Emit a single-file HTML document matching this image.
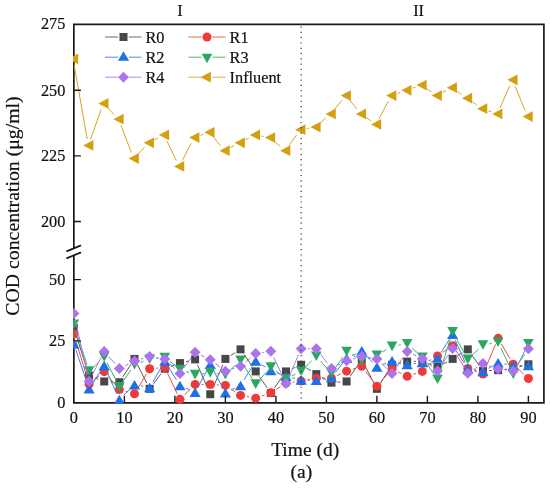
<!DOCTYPE html>
<html><head><meta charset="utf-8"><title>COD concentration chart</title>
<style>html,body{margin:0;padding:0;background:#fff;}body{width:550px;height:489px;overflow:hidden;}svg{display:block;}</style>
</head><body>
<svg width="550" height="489" viewBox="0 0 550 489">
<rect width="550" height="489" fill="#fff"/>
<path d="M73.85,248.3V24.4H543.9V402.9H73.85V255.3" stroke="#1a1a1a" stroke-width="1.7" fill="none" stroke-linejoin="miter"/>
<defs><clipPath id="pc"><rect x="73" y="25.2" width="470" height="378.5"/></clipPath></defs>
<g clip-path="url(#pc)">
<path d="M75.81,334.02L87.14,369.58M94.92,377.86L98.33,379.19M110.49,381.77L113.06,381.90M122.78,376.92L131.07,364.19M137.35,364.53L146.80,383.20M153.44,383.79L161.01,373.75M170.70,366.52L174.05,365.28M186.07,361.59L188.98,360.89M197.61,365.18L207.74,388.44M212.73,388.43L222.92,364.70M230.73,355.55L235.22,352.71M244.12,354.54L252.13,366.22M259.32,376.57L267.23,387.84M274.47,387.84L282.38,376.57M291.77,368.89L295.38,367.32M306.52,368.09L310.93,370.81M321.78,377.22L325.97,379.59M337.73,382.19L340.32,381.98M350.19,376.29L358.16,364.82M364.65,365.24L374.00,383.23M380.26,383.49L388.69,370.12M398.22,363.50L401.03,362.90M413.50,361.40L416.05,361.32M428.22,363.40L431.63,364.72M443.06,364.03L447.09,361.88M457.98,355.55L462.47,352.71M471.42,354.50L479.33,365.77M489.24,370.62L491.81,370.49M504.36,369.48L506.99,369.18M519.32,366.80L522.33,365.97" stroke="#5a5a5a" stroke-width="1.0" fill="none"/>
<rect x="69.90" y="324.01" width="8.0" height="8.0" fill="#474747"/><rect x="85.05" y="371.58" width="8.0" height="8.0" fill="#474747"/><rect x="100.20" y="377.47" width="8.0" height="8.0" fill="#474747"/><rect x="115.35" y="378.20" width="8.0" height="8.0" fill="#474747"/><rect x="130.50" y="354.91" width="8.0" height="8.0" fill="#474747"/><rect x="145.65" y="384.82" width="8.0" height="8.0" fill="#474747"/><rect x="160.80" y="364.72" width="8.0" height="8.0" fill="#474747"/><rect x="175.95" y="359.08" width="8.0" height="8.0" fill="#474747"/><rect x="191.10" y="355.40" width="8.0" height="8.0" fill="#474747"/><rect x="206.25" y="390.22" width="8.0" height="8.0" fill="#474747"/><rect x="221.40" y="354.91" width="8.0" height="8.0" fill="#474747"/><rect x="236.55" y="345.35" width="8.0" height="8.0" fill="#474747"/><rect x="251.70" y="367.41" width="8.0" height="8.0" fill="#474747"/><rect x="266.85" y="388.99" width="8.0" height="8.0" fill="#474747"/><rect x="282.00" y="367.41" width="8.0" height="8.0" fill="#474747"/><rect x="297.15" y="360.79" width="8.0" height="8.0" fill="#474747"/><rect x="312.30" y="370.11" width="8.0" height="8.0" fill="#474747"/><rect x="327.45" y="378.69" width="8.0" height="8.0" fill="#474747"/><rect x="342.60" y="377.47" width="8.0" height="8.0" fill="#474747"/><rect x="357.75" y="355.64" width="8.0" height="8.0" fill="#474747"/><rect x="372.90" y="384.82" width="8.0" height="8.0" fill="#474747"/><rect x="388.05" y="360.79" width="8.0" height="8.0" fill="#474747"/><rect x="403.20" y="357.61" width="8.0" height="8.0" fill="#474747"/><rect x="418.35" y="357.12" width="8.0" height="8.0" fill="#474747"/><rect x="433.50" y="363.00" width="8.0" height="8.0" fill="#474747"/><rect x="448.65" y="354.91" width="8.0" height="8.0" fill="#474747"/><rect x="463.80" y="345.35" width="8.0" height="8.0" fill="#474747"/><rect x="478.95" y="366.92" width="8.0" height="8.0" fill="#474747"/><rect x="494.10" y="366.19" width="8.0" height="8.0" fill="#474747"/><rect x="509.25" y="364.47" width="8.0" height="8.0" fill="#474747"/><rect x="524.40" y="360.30" width="8.0" height="8.0" fill="#474747"/>
<path d="M75.78,340.36L87.17,377.94M94.06,380.03L99.19,375.80M108.40,376.62L115.15,384.60M125.62,391.28L128.23,392.00M137.87,388.17L146.28,374.28M156.13,368.19L158.32,368.02M167.59,373.36L177.16,393.50M184.58,394.80L190.47,388.98M201.60,384.41L203.75,384.41M216.74,384.83L218.91,384.97M230.82,388.98L235.13,391.85M246.95,396.58L249.30,397.00M261.82,395.96L264.73,394.93M276.35,389.28L280.50,386.65M292.43,382.25L294.72,381.91M307.55,379.84L309.90,379.42M322.80,378.28L324.95,378.28M337.33,375.52L340.72,373.93M352.78,369.17L355.57,368.27M365.69,371.43L372.96,380.96M381.20,381.25L387.75,373.84M397.90,371.80L401.35,373.48M413.38,374.32L416.17,373.42M426.90,366.77L432.95,360.61M442.88,352.31L447.27,349.32M456.25,351.08L464.20,363.06M473.89,370.74L476.86,371.84M485.48,368.13L495.57,344.30M501.37,343.93L509.98,358.69M517.99,368.75L523.66,374.08" stroke="#f04848" stroke-width="1.0" fill="none"/>
<circle cx="73.90" cy="334.14" r="4.5" fill="#f03a3a"/><circle cx="89.05" cy="384.16" r="4.5" fill="#f03a3a"/><circle cx="104.20" cy="371.66" r="4.5" fill="#f03a3a"/><circle cx="119.35" cy="389.56" r="4.5" fill="#f03a3a"/><circle cx="134.50" cy="393.73" r="4.5" fill="#f03a3a"/><circle cx="149.65" cy="368.72" r="4.5" fill="#f03a3a"/><circle cx="164.80" cy="367.49" r="4.5" fill="#f03a3a"/><circle cx="179.95" cy="399.37" r="4.5" fill="#f03a3a"/><circle cx="195.10" cy="384.41" r="4.5" fill="#f03a3a"/><circle cx="210.25" cy="384.41" r="4.5" fill="#f03a3a"/><circle cx="225.40" cy="385.39" r="4.5" fill="#f03a3a"/><circle cx="240.55" cy="395.44" r="4.5" fill="#f03a3a"/><circle cx="255.70" cy="398.14" r="4.5" fill="#f03a3a"/><circle cx="270.85" cy="392.75" r="4.5" fill="#f03a3a"/><circle cx="286.00" cy="383.18" r="4.5" fill="#f03a3a"/><circle cx="301.15" cy="380.98" r="4.5" fill="#f03a3a"/><circle cx="316.30" cy="378.28" r="4.5" fill="#f03a3a"/><circle cx="331.45" cy="378.28" r="4.5" fill="#f03a3a"/><circle cx="346.60" cy="371.17" r="4.5" fill="#f03a3a"/><circle cx="361.75" cy="366.27" r="4.5" fill="#f03a3a"/><circle cx="376.90" cy="386.13" r="4.5" fill="#f03a3a"/><circle cx="392.05" cy="368.96" r="4.5" fill="#f03a3a"/><circle cx="407.20" cy="376.32" r="4.5" fill="#f03a3a"/><circle cx="422.35" cy="371.41" r="4.5" fill="#f03a3a"/><circle cx="437.50" cy="355.97" r="4.5" fill="#f03a3a"/><circle cx="452.65" cy="345.67" r="4.5" fill="#f03a3a"/><circle cx="467.80" cy="368.47" r="4.5" fill="#f03a3a"/><circle cx="482.95" cy="374.11" r="4.5" fill="#f03a3a"/><circle cx="498.10" cy="338.31" r="4.5" fill="#f03a3a"/><circle cx="513.25" cy="364.30" r="4.5" fill="#f03a3a"/><circle cx="528.40" cy="378.53" r="4.5" fill="#f03a3a"/>
<path d="M75.98,350.11L86.97,382.67M92.59,383.37L100.66,370.98M106.84,371.47L116.71,393.67M123.98,395.05L129.87,389.22M140.88,385.89L143.27,386.36M152.88,381.96L161.57,366.76M168.24,366.63L176.51,379.88M185.87,388.07L189.18,389.57M198.20,386.54L207.15,370.02M213.31,370.04L222.34,387.01M231.25,389.91L234.70,388.23M243.99,379.88L252.26,366.63M261.24,364.52L265.31,367.03M276.91,372.79L279.94,373.96M292.32,377.85L294.83,378.46M307.65,380.10L309.80,380.14M322.70,379.10L325.05,378.68M335.45,372.42L342.60,363.29M352.45,355.33L355.90,353.66M366.19,355.56L372.46,362.26M382.89,364.48L386.06,363.15M398.34,362.26L400.91,362.92M413.65,363.71L415.90,363.42M428.56,360.68L431.29,359.84M440.99,352.45L449.16,339.63M455.27,340.09L465.18,362.53M474.18,369.71L476.57,370.18M488.61,368.21L492.44,366.04M504.50,363.97L506.85,364.39M519.75,365.53L521.90,365.53" stroke="#3a80ea" stroke-width="1.0" fill="none"/>
<path d="M73.90,339.20L79.50,348.70L68.30,348.70Z" fill="#1f6fe6"/><path d="M89.05,384.07L94.65,393.57L83.45,393.57Z" fill="#1f6fe6"/><path d="M104.20,360.78L109.80,370.28L98.60,370.28Z" fill="#1f6fe6"/><path d="M119.35,394.86L124.95,404.36L113.75,404.36Z" fill="#1f6fe6"/><path d="M134.50,379.91L140.10,389.41L128.90,389.41Z" fill="#1f6fe6"/><path d="M149.65,382.85L155.25,392.35L144.05,392.35Z" fill="#1f6fe6"/><path d="M164.80,356.37L170.40,365.87L159.20,365.87Z" fill="#1f6fe6"/><path d="M179.95,380.64L185.55,390.14L174.35,390.14Z" fill="#1f6fe6"/><path d="M195.10,387.51L200.70,397.01L189.50,397.01Z" fill="#1f6fe6"/><path d="M210.25,359.55L215.85,369.05L204.65,369.05Z" fill="#1f6fe6"/><path d="M225.40,388.00L231.00,397.50L219.80,397.50Z" fill="#1f6fe6"/><path d="M240.55,380.64L246.15,390.14L234.95,390.14Z" fill="#1f6fe6"/><path d="M255.70,356.37L261.30,365.87L250.10,365.87Z" fill="#1f6fe6"/><path d="M270.85,365.68L276.45,375.18L265.25,375.18Z" fill="#1f6fe6"/><path d="M286.00,371.57L291.60,381.07L280.40,381.07Z" fill="#1f6fe6"/><path d="M301.15,375.25L306.75,384.75L295.55,384.75Z" fill="#1f6fe6"/><path d="M316.30,375.49L321.90,384.99L310.70,384.99Z" fill="#1f6fe6"/><path d="M331.45,372.79L337.05,382.29L325.85,382.29Z" fill="#1f6fe6"/><path d="M346.60,353.42L352.20,362.92L341.00,362.92Z" fill="#1f6fe6"/><path d="M361.75,346.07L367.35,355.57L356.15,355.57Z" fill="#1f6fe6"/><path d="M376.90,362.25L382.50,371.75L371.30,371.75Z" fill="#1f6fe6"/><path d="M392.05,355.88L397.65,365.38L386.45,365.38Z" fill="#1f6fe6"/><path d="M407.20,359.80L412.80,369.30L401.60,369.30Z" fill="#1f6fe6"/><path d="M422.35,357.84L427.95,367.34L416.75,367.34Z" fill="#1f6fe6"/><path d="M437.50,353.18L443.10,362.68L431.90,362.68Z" fill="#1f6fe6"/><path d="M452.65,329.39L458.25,338.89L447.05,338.89Z" fill="#1f6fe6"/><path d="M467.80,363.72L473.40,373.22L462.20,373.22Z" fill="#1f6fe6"/><path d="M482.95,366.66L488.55,376.16L477.35,376.16Z" fill="#1f6fe6"/><path d="M498.10,358.08L503.70,367.58L492.50,367.58Z" fill="#1f6fe6"/><path d="M513.25,360.78L518.85,370.28L507.65,370.28Z" fill="#1f6fe6"/><path d="M528.40,360.78L534.00,370.28L522.80,370.28Z" fill="#1f6fe6"/>
<path d="M75.90,330.52L87.05,364.98M93.79,366.72L99.46,361.40M107.14,362.75L116.41,381.06M123.03,381.50L130.82,370.15M140.59,362.53L143.56,361.42M156.11,358.42L158.34,358.17M169.89,361.48L174.86,365.41M186.10,371.54L188.95,372.51M201.55,373.77L203.80,373.48M216.70,373.48L218.95,373.77M230.14,370.15L235.81,364.83M244.04,365.86L252.21,378.68M260.00,379.29L266.55,371.87M275.94,371.04L280.91,374.98M291.77,376.03L295.38,374.16M305.78,366.60L311.67,360.78M320.60,361.09L327.15,368.50M335.16,368.04L342.89,356.89M352.14,354.96L356.21,357.47M367.84,358.60L370.81,357.50M382.52,351.96L386.43,349.68M398.45,345.26L400.80,344.85M412.06,348.03L417.49,352.87M426.03,362.55L433.82,373.90M439.47,373.07L450.68,337.89M455.77,337.40L464.68,353.70M472.50,354.91L478.25,349.42M489.35,343.79L491.70,343.37M500.89,348.11L510.46,368.24M516.15,368.29L525.50,349.52" stroke="#3cb272" stroke-width="1.0" fill="none"/>
<path d="M68.60,319.54L79.20,319.54L73.90,329.14Z" fill="#28a85e"/><path d="M83.75,366.37L94.35,366.37L89.05,375.97Z" fill="#28a85e"/><path d="M98.90,352.15L109.50,352.15L104.20,361.75Z" fill="#28a85e"/><path d="M114.05,382.06L124.65,382.06L119.35,391.66Z" fill="#28a85e"/><path d="M129.20,359.99L139.80,359.99L134.50,369.59Z" fill="#28a85e"/><path d="M144.35,354.35L154.95,354.35L149.65,363.95Z" fill="#28a85e"/><path d="M159.50,352.64L170.10,352.64L164.80,362.24Z" fill="#28a85e"/><path d="M174.65,364.65L185.25,364.65L179.95,374.25Z" fill="#28a85e"/><path d="M189.80,369.80L200.40,369.80L195.10,379.40Z" fill="#28a85e"/><path d="M204.95,367.84L215.55,367.84L210.25,377.44Z" fill="#28a85e"/><path d="M220.10,369.80L230.70,369.80L225.40,379.40Z" fill="#28a85e"/><path d="M235.25,355.58L245.85,355.58L240.55,365.18Z" fill="#28a85e"/><path d="M250.40,379.36L261.00,379.36L255.70,388.96Z" fill="#28a85e"/><path d="M265.55,362.20L276.15,362.20L270.85,371.80Z" fill="#28a85e"/><path d="M280.70,374.22L291.30,374.22L286.00,383.82Z" fill="#28a85e"/><path d="M295.85,366.37L306.45,366.37L301.15,375.97Z" fill="#28a85e"/><path d="M311.00,351.41L321.60,351.41L316.30,361.01Z" fill="#28a85e"/><path d="M326.15,368.58L336.75,368.58L331.45,378.18Z" fill="#28a85e"/><path d="M341.30,346.75L351.90,346.75L346.60,356.35Z" fill="#28a85e"/><path d="M356.45,356.07L367.05,356.07L361.75,365.67Z" fill="#28a85e"/><path d="M371.60,350.43L382.20,350.43L376.90,360.03Z" fill="#28a85e"/><path d="M386.75,341.60L397.35,341.60L392.05,351.20Z" fill="#28a85e"/><path d="M401.90,338.91L412.50,338.91L407.20,348.51Z" fill="#28a85e"/><path d="M417.05,352.39L427.65,352.39L422.35,361.99Z" fill="#28a85e"/><path d="M432.20,374.46L442.80,374.46L437.50,384.06Z" fill="#28a85e"/><path d="M447.35,326.89L457.95,326.89L452.65,336.49Z" fill="#28a85e"/><path d="M462.50,354.60L473.10,354.60L467.80,364.20Z" fill="#28a85e"/><path d="M477.65,340.13L488.25,340.13L482.95,349.73Z" fill="#28a85e"/><path d="M492.80,337.44L503.40,337.44L498.10,347.04Z" fill="#28a85e"/><path d="M507.95,369.31L518.55,369.31L513.25,378.91Z" fill="#28a85e"/><path d="M523.10,338.91L533.70,338.91L528.40,348.51Z" fill="#28a85e"/>
<path d="M75.34,319.99L87.61,374.78M92.05,375.34L101.20,357.43M108.60,356.47L114.95,363.56M125.29,365.59L128.56,364.00M140.81,359.18L143.34,358.40M156.17,357.51L158.28,357.85M169.57,363.47L175.18,368.82M183.80,368.02L191.25,357.65M201.04,355.17L204.31,356.76M215.50,363.64L220.15,367.17M231.68,369.14L234.27,368.30M245.60,362.02L250.65,357.76M262.23,352.56L264.32,352.26M273.67,357.28L283.18,377.46M288.65,377.38L298.50,354.90M307.75,348.86L309.70,348.86M320.33,354.08L327.42,363.25M337.35,365.51L340.70,363.83M352.91,358.93L355.44,358.15M368.25,357.37L370.40,357.75M381.67,363.47L387.28,368.82M395.81,367.95L403.44,356.97M413.17,354.36L416.38,355.86M427.48,362.82L432.37,366.77M441.21,365.46L448.94,354.07M456.12,354.23L464.33,367.52M473.38,369.61L477.37,367.09M489.17,365.78L491.88,366.75M504.65,369.81L506.70,370.08M516.99,365.48L524.66,354.30" stroke="#ac78ec" stroke-width="1.0" fill="none"/>
<path d="M73.90,308.05L79.35,313.55L73.90,319.05L68.45,313.55Z" fill="#ac74ec"/><path d="M89.05,375.72L94.50,381.22L89.05,386.72L83.60,381.22Z" fill="#ac74ec"/><path d="M104.20,346.05L109.65,351.55L104.20,357.05L98.75,351.55Z" fill="#ac74ec"/><path d="M119.35,362.97L124.80,368.47L119.35,373.97L113.90,368.47Z" fill="#ac74ec"/><path d="M134.50,355.62L139.95,361.12L134.50,366.62L129.05,361.12Z" fill="#ac74ec"/><path d="M149.65,350.96L155.10,356.46L149.65,361.96L144.20,356.46Z" fill="#ac74ec"/><path d="M164.80,353.41L170.25,358.91L164.80,364.41L159.35,358.91Z" fill="#ac74ec"/><path d="M179.95,367.88L185.40,373.38L179.95,378.88L174.50,373.38Z" fill="#ac74ec"/><path d="M195.10,346.79L200.55,352.29L195.10,357.79L189.65,352.29Z" fill="#ac74ec"/><path d="M210.25,354.14L215.70,359.64L210.25,365.14L204.80,359.64Z" fill="#ac74ec"/><path d="M225.40,365.67L230.85,371.17L225.40,376.67L219.95,371.17Z" fill="#ac74ec"/><path d="M240.55,360.77L246.00,366.27L240.55,371.77L235.10,366.27Z" fill="#ac74ec"/><path d="M255.70,348.01L261.15,353.51L255.70,359.01L250.25,353.51Z" fill="#ac74ec"/><path d="M270.85,345.81L276.30,351.31L270.85,356.81L265.40,351.31Z" fill="#ac74ec"/><path d="M286.00,377.93L291.45,383.43L286.00,388.93L280.55,383.43Z" fill="#ac74ec"/><path d="M301.15,343.36L306.60,348.86L301.15,354.36L295.70,348.86Z" fill="#ac74ec"/><path d="M316.30,343.36L321.75,348.86L316.30,354.36L310.85,348.86Z" fill="#ac74ec"/><path d="M331.45,362.97L336.90,368.47L331.45,373.97L326.00,368.47Z" fill="#ac74ec"/><path d="M346.60,355.37L352.05,360.87L346.60,366.37L341.15,360.87Z" fill="#ac74ec"/><path d="M361.75,350.71L367.20,356.21L361.75,361.71L356.30,356.21Z" fill="#ac74ec"/><path d="M376.90,353.41L382.35,358.91L376.90,364.41L371.45,358.91Z" fill="#ac74ec"/><path d="M392.05,367.88L397.50,373.38L392.05,378.88L386.60,373.38Z" fill="#ac74ec"/><path d="M407.20,346.05L412.65,351.55L407.20,357.05L401.75,351.55Z" fill="#ac74ec"/><path d="M422.35,353.16L427.80,358.66L422.35,364.16L416.90,358.66Z" fill="#ac74ec"/><path d="M437.50,365.42L442.95,370.92L437.50,376.42L432.05,370.92Z" fill="#ac74ec"/><path d="M452.65,343.11L458.10,348.61L452.65,354.11L447.20,348.61Z" fill="#ac74ec"/><path d="M467.80,367.63L473.25,373.13L467.80,378.63L462.35,373.13Z" fill="#ac74ec"/><path d="M482.95,358.07L488.40,363.57L482.95,369.07L477.50,363.57Z" fill="#ac74ec"/><path d="M498.10,363.46L503.55,368.96L498.10,374.46L492.65,368.96Z" fill="#ac74ec"/><path d="M513.25,365.42L518.70,370.92L513.25,376.42L507.80,370.92Z" fill="#ac74ec"/><path d="M528.40,343.36L533.85,348.86L528.40,354.36L522.95,348.86Z" fill="#ac74ec"/>
<path d="M74.22,65.21L87.13,139.00M90.46,139.29L101.19,109.53M107.91,108.10L114.04,114.48M120.88,125.23L131.37,152.46M138.21,153.84L144.34,147.46M154.62,139.78L158.23,137.90M166.82,140.77L176.33,160.54M182.17,160.64L191.28,143.29M200.44,135.40L203.31,134.41M213.59,137.30L220.46,145.64M230.37,147.66L233.98,145.78M245.52,139.78L249.13,137.90M261.30,136.02L263.65,136.42M274.96,141.79L280.29,146.40M289.00,145.38L296.55,134.93M306.75,128.55L309.10,128.15M320.41,122.78L325.74,118.17M334.79,108.90L341.66,100.56M349.94,100.56L356.81,108.90M366.29,117.62L370.76,120.71M379.12,118.66L388.23,101.30M397.39,93.42L400.26,92.43M412.54,88.17L415.41,87.18M426.89,88.75L431.36,91.85M442.47,92.55L446.08,90.67M457.19,91.38L461.66,94.47M472.34,101.87L476.81,104.97M488.29,110.80L491.16,111.79M499.94,107.98L509.81,85.74M514.93,85.81L525.12,110.53" stroke="#d6a620" stroke-width="1.0" fill="none"/>
<path d="M68.00,58.81L78.20,53.41L78.20,64.21Z" fill="#d4a00f"/><path d="M83.15,145.40L93.35,140.00L93.35,150.80Z" fill="#d4a00f"/><path d="M98.30,103.42L108.50,98.02L108.50,108.82Z" fill="#d4a00f"/><path d="M113.45,119.16L123.65,113.76L123.65,124.56Z" fill="#d4a00f"/><path d="M128.60,158.52L138.80,153.12L138.80,163.92Z" fill="#d4a00f"/><path d="M143.75,142.78L153.95,137.38L153.95,148.18Z" fill="#d4a00f"/><path d="M158.90,134.91L169.10,129.51L169.10,140.31Z" fill="#d4a00f"/><path d="M174.05,166.40L184.25,161.00L184.25,171.80Z" fill="#d4a00f"/><path d="M189.20,137.53L199.40,132.13L199.40,142.93Z" fill="#d4a00f"/><path d="M204.35,132.28L214.55,126.88L214.55,137.68Z" fill="#d4a00f"/><path d="M219.50,150.65L229.70,145.25L229.70,156.05Z" fill="#d4a00f"/><path d="M234.65,142.78L244.85,137.38L244.85,148.18Z" fill="#d4a00f"/><path d="M249.80,134.91L260.00,129.51L260.00,140.31Z" fill="#d4a00f"/><path d="M264.95,137.53L275.15,132.13L275.15,142.93Z" fill="#d4a00f"/><path d="M280.10,150.65L290.30,145.25L290.30,156.05Z" fill="#d4a00f"/><path d="M295.25,129.66L305.45,124.26L305.45,135.06Z" fill="#d4a00f"/><path d="M310.40,127.04L320.60,121.64L320.60,132.44Z" fill="#d4a00f"/><path d="M325.55,113.92L335.75,108.52L335.75,119.32Z" fill="#d4a00f"/><path d="M340.70,95.55L350.90,90.15L350.90,100.95Z" fill="#d4a00f"/><path d="M355.85,113.92L366.05,108.52L366.05,119.32Z" fill="#d4a00f"/><path d="M371.00,124.41L381.20,119.01L381.20,129.81Z" fill="#d4a00f"/><path d="M386.15,95.55L396.35,90.15L396.35,100.95Z" fill="#d4a00f"/><path d="M401.30,90.30L411.50,84.90L411.50,95.70Z" fill="#d4a00f"/><path d="M416.45,85.05L426.65,79.65L426.65,90.45Z" fill="#d4a00f"/><path d="M431.60,95.55L441.80,90.15L441.80,100.95Z" fill="#d4a00f"/><path d="M446.75,87.68L456.95,82.28L456.95,93.08Z" fill="#d4a00f"/><path d="M461.90,98.17L472.10,92.77L472.10,103.57Z" fill="#d4a00f"/><path d="M477.05,108.67L487.25,103.27L487.25,114.07Z" fill="#d4a00f"/><path d="M492.20,113.92L502.40,108.52L502.40,119.32Z" fill="#d4a00f"/><path d="M507.35,79.80L517.55,74.40L517.55,85.20Z" fill="#d4a00f"/><path d="M522.50,116.54L532.70,111.14L532.70,121.94Z" fill="#d4a00f"/>
</g>
<line x1="301.15" y1="26.5" x2="301.15" y2="402" stroke="#333" stroke-width="1.2" stroke-dasharray="1.2,4.1"/>
<path d="M67.1,251.1L80.4,245.6M67.1,258.1L80.4,252.6" stroke="#1a1a1a" stroke-width="1.7" fill="none" stroke-linecap="round"/>
<path d="M73.85,90.30H80.9M73.85,155.90H80.9M73.85,221.50H80.9M73.85,279.60H80.9M73.85,340.90H80.9M124.40,402.9V395.8M174.90,402.9V395.8M225.40,402.9V395.8M275.90,402.9V395.8M326.40,402.9V395.8M376.90,402.9V395.8M427.40,402.9V395.8M477.90,402.9V395.8M528.40,402.9V395.8" stroke="#1a1a1a" stroke-width="1.4" fill="none"/>
<g font-family='"Liberation Serif", "Times New Roman", serif' font-size="16.3" fill="#111" stroke="#111" stroke-width="0.2"><text x="65.3" y="29.20" text-anchor="end">275</text><text x="65.3" y="95.60" text-anchor="end">250</text><text x="65.3" y="161.20" text-anchor="end">225</text><text x="65.3" y="226.80" text-anchor="end">200</text><text x="65.3" y="284.90" text-anchor="end">50</text><text x="65.3" y="346.20" text-anchor="end">25</text><text x="65.3" y="407.70" text-anchor="end">0</text><text x="73.90" y="423.2" text-anchor="middle">0</text><text x="124.40" y="423.2" text-anchor="middle">10</text><text x="174.90" y="423.2" text-anchor="middle">20</text><text x="225.40" y="423.2" text-anchor="middle">30</text><text x="275.90" y="423.2" text-anchor="middle">40</text><text x="326.40" y="423.2" text-anchor="middle">50</text><text x="376.90" y="423.2" text-anchor="middle">60</text><text x="427.40" y="423.2" text-anchor="middle">70</text><text x="477.90" y="423.2" text-anchor="middle">80</text><text x="528.40" y="423.2" text-anchor="middle">90</text><text x="179.9" y="16.4" text-anchor="middle">I</text><text x="418.6" y="16.4" text-anchor="middle">II</text></g>
<path d="M105,37.0H118.10M128.90,37.0H141.5" stroke="#5a5a5a" stroke-width="0.9"/><rect x="119.50" y="33.00" width="8.0" height="8.0" fill="#474747"/><path d="M105,57.2H118.10M128.90,57.2H141.5" stroke="#3a80ea" stroke-width="0.9"/><path d="M123.50,51.15L129.10,60.65L117.90,60.65Z" fill="#1f6fe6"/><path d="M105,77.2H118.10M128.90,77.2H141.5" stroke="#ac78ec" stroke-width="0.9"/><path d="M123.50,71.70L128.95,77.20L123.50,82.70L118.05,77.20Z" fill="#ac74ec"/><path d="M188.4,37.0H201.60M212.40,37.0H225.6" stroke="#f04848" stroke-width="0.9"/><circle cx="207.00" cy="37.00" r="4.5" fill="#f03a3a"/><path d="M188.4,57.2H201.60M212.40,57.2H225.6" stroke="#3cb272" stroke-width="0.9"/><path d="M201.70,53.70L212.30,53.70L207.00,63.30Z" fill="#28a85e"/><path d="M188.4,77.2H201.60M212.40,77.2H225.6" stroke="#d6a620" stroke-width="0.9"/><path d="M200.60,77.20L210.80,71.80L210.80,82.60Z" fill="#d4a00f"/>
<g font-family='"Liberation Serif", "Times New Roman", serif' font-size="16.3" fill="#111" stroke="#111" stroke-width="0.2"><text x="145.5" y="42.60">R0</text><text x="145.5" y="62.80">R2</text><text x="145.5" y="82.80">R4</text><text x="229.6" y="42.60">R1</text><text x="229.6" y="62.80">R3</text><text x="229.6" y="82.80">Influent</text></g>
<text x="305.2" y="456.2" text-anchor="middle" font-family='"Liberation Serif", "Times New Roman", serif' font-size="19.5" fill="#111" stroke="#111" stroke-width="0.2">Time (d)</text>
<text x="301.4" y="478" text-anchor="middle" font-family='"Liberation Serif", "Times New Roman", serif' font-size="19.5" fill="#111" stroke="#111" stroke-width="0.2">(a)</text>
<text transform="translate(19.2,206) rotate(-90)" text-anchor="middle" font-family='"Liberation Serif", "Times New Roman", serif' font-size="19.8" fill="#111" stroke="#111" stroke-width="0.2">COD concentration (μg/ml)</text>
</svg>
</body></html>
